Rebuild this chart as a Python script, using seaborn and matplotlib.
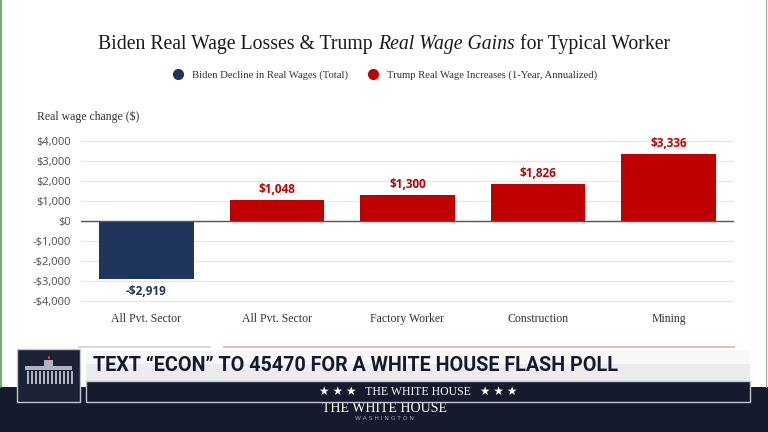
import matplotlib
matplotlib.use("Agg")
import matplotlib.pyplot as plt
import pandas as pd
import seaborn as sns
from matplotlib.patches import Rectangle
from matplotlib.lines import Line2D

# ---------------- data ----------------
slots = ["biden_all", "trump_all", "trump_factory", "trump_construction", "trump_mining"]
categories = ["All Pvt. Sector", "All Pvt. Sector", "Factory Worker", "Construction", "Mining"]
series_names = ["Biden Decline in Real Wages (Total)",
                "Trump Real Wage Increases (1-Year, Annualized)"]
bar_series = [series_names[0], series_names[1], series_names[1], series_names[1], series_names[1]]
values = [-2919, 1048, 1300, 1826, 3336]
value_labels = ["-$2,919", "$1,048", "$1,300", "$1,826", "$3,336"]
y_ticks = [-4000, -3000, -2000, -1000, 0, 1000, 2000, 3000, 4000]
y_tick_labels = ["-$4,000", "-$3,000", "-$2,000", "-$1,000", "$0",
                 "$1,000", "$2,000", "$3,000", "$4,000"]
title_parts = ["Biden Real Wage Losses & Trump ", "Real Wage Gains", " for Typical Worker"]
y_label = "Real wage change ($)"

NAVY = "#1f355e"
RED = "#c00000"
palette = {series_names[0]: NAVY, series_names[1]: RED}

sns.set_theme(style="white")
plt.rcParams["font.family"] = ["Liberation Serif", "DejaVu Sans"]

W, H = 768, 432
fig = plt.figure(figsize=(W / 100, H / 100), dpi=100)
fig.patch.set_facecolor("white")


def fx(px):
    return px / W


def fy(py):
    return 1 - py / H


# axes placement: pixel box
ax_l, ax_r, ax_t, ax_b = 81, 734, 139, 303
ax = fig.add_axes([fx(ax_l), fy(ax_b), fx(ax_r) - fx(ax_l), (ax_b - ax_t) / H])

df = pd.DataFrame({"slot": slots, "value": values, "series": bar_series})
sns.barplot(data=df, x="slot", y="value", hue="series", order=slots,
            palette=palette, dodge=False, width=0.725, saturation=1,
            legend=False, ax=ax, edgecolor="none", linewidth=0)

ax.set_xlim(-0.5, 4.5)
ax.set_ylim(-4100, 4100)
ax.set_yticks(y_ticks)
ax.set_yticklabels(y_tick_labels, family="Open Sans", fontsize=8, color="#4d4d4d")
ax.set_xticks(range(len(categories)))
ax.set_xticklabels(categories, fontsize=8.5, color="#333333", family="Liberation Serif",
                   va="baseline")
ax.tick_params(axis="both", length=0)
ax.tick_params(axis="y", pad=7)
ax.tick_params(axis="x", pad=13.5)
ax.set_xlabel("")
ax.set_ylabel("")
for s in ax.spines.values():
    s.set_visible(False)
ax.yaxis.grid(True, color="#e6e6e6", linewidth=0.9)
ax.set_axisbelow(True)
ax.axhline(0, color="#555555", linewidth=1, zorder=3)

for i, (v, lab) in enumerate(zip(values, value_labels)):
    col = NAVY if v < 0 else RED
    ax.annotate(lab, (i, v), xytext=(0, -4 if v < 0 else 3), textcoords="offset points",
                ha="center", va="top" if v < 0 else "bottom",
                fontsize=8.5, fontweight="bold", color=col, family="Open Sans",
                annotation_clip=False)

# y label
fig.text(fx(37), fy(117), y_label, ha="left", va="center", fontsize=8.5,
         color="#333333", family="Liberation Serif")

# title with italic middle part
renderer = fig.canvas.get_renderer()
styles = ["normal", "italic", "normal"]
ttexts, widths = [], []
for part, st in zip(title_parts, styles):
    t = fig.text(0, fy(44), part, fontsize=14.2, style=st, family="Liberation Serif",
                 ha="left", va="center", color="#1a1a1a")
    widths.append(t.get_window_extent(renderer).width)
    ttexts.append(t)
x0 = 384 - sum(widths) / 2
for t, w in zip(ttexts, widths):
    t.set_x(fx(x0))
    x0 += w

# legend
handles = [Line2D([], [], marker="o", linestyle="none", markersize=7,
                  markerfacecolor=palette[n], markeredgecolor=palette[n]) for n in series_names]
fig.legend(handles, series_names, loc="center", bbox_to_anchor=(fx(382), fy(75)),
           ncol=2, frameon=False, fontsize=7.7, handletextpad=0.35, columnspacing=1.3,
           labelcolor="#333333")

# ---------------- broadcast banner ----------------
def rect(x0, y0, x1, y1, fc, ec="none", lw=0, z=1):
    r = Rectangle((fx(x0), fy(y1)), fx(x1) - fx(x0), (y1 - y0) / H,
                  transform=fig.transFigure, facecolor=fc, edgecolor=ec, linewidth=lw,
                  zorder=z)
    fig.patches.append(r)


rect(0, 387, 768, 432, "#151b2c", z=1)
fig.text(fx(384), fy(408), "THE WHITE HOUSE", ha="center", va="center", fontsize=10,
         color="white", family="Liberation Serif", zorder=1.5)
fig.text(fx(384), fy(418.5), "W A S H I N G T O N", ha="center", va="center", fontsize=4.3,
         color="#a0a6b4", family="DejaVu Sans", zorder=1.5)
rect(78, 346, 211, 348, "#d5d8de", z=2)
rect(223, 346, 735, 348, "#eab9bd", z=2)
rect(86, 350, 750, 381, "#f8f8f9", z=2)
rect(86, 364, 750, 381, "#ececef", z=2.1)
rect(86, 381, 750, 402, "#151b2c", ec="#c3c7d1", lw=1, z=2.2)
rect(17, 349, 80, 402, "#1b2236", ec="#c3c7d1", lw=1, z=2.2)
# tiny white-house glyph in logo box
rect(25, 366, 72, 370, "#aeb4c2", z=2.3)
for cx in range(27, 72, 4):
    rect(cx, 371, cx + 1.5, 384, "#aeb4c2", z=2.3)
rect(44, 360, 53, 366, "#aeb4c2", z=2.3)
rect(47.5, 356, 49.5, 359, "#c0392b", z=2.3)

fig.text(fx(93), fy(365.5), "TEXT \u201cECON\u201d TO 45470 FOR A WHITE HOUSE FLASH POLL",
         ha="left", va="center", fontsize=14.2, fontweight="bold", color="#141a2b",
         family="Roboto", zorder=3)
fig.text(fx(418), fy(391.5), "\u2605 \u2605 \u2605   THE WHITE HOUSE   \u2605 \u2605 \u2605",
         ha="center", va="center", fontsize=8.5, color="white",
         family=["Liberation Serif", "DejaVu Sans"], zorder=3)

# thin green screen border
fig.lines.append(Line2D([fx(0.5), fx(0.5)], [fy(0), fy(387)], transform=fig.transFigure,
                        color="#5f9a5a", linewidth=1.2))
fig.lines.append(Line2D([fx(766), fx(766)], [fy(0), fy(387)], transform=fig.transFigure,
                        color="#8fb58a", linewidth=0.8))

fig.savefig("out.png", dpi=100)
